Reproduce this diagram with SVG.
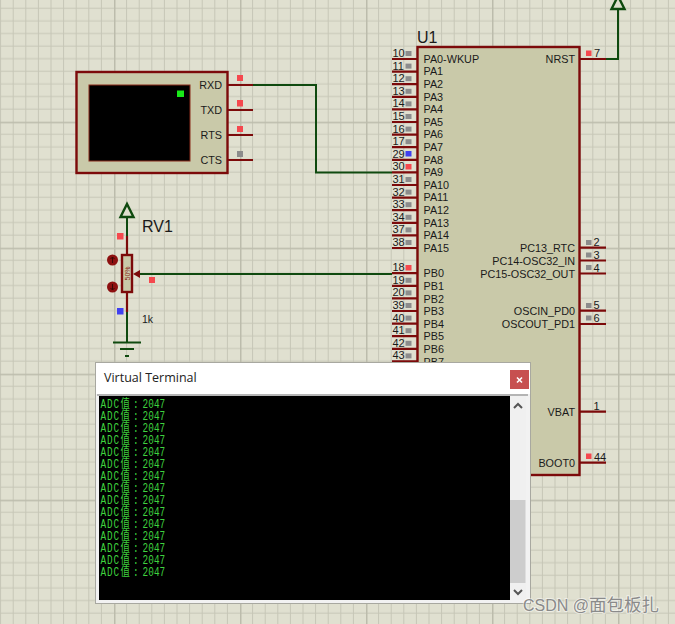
<svg xmlns="http://www.w3.org/2000/svg" width="675" height="624" viewBox="0 0 675 624">
<style>
text{font-family:"Liberation Sans",Arial,"Noto Sans CJK SC",sans-serif;fill:#1a1a1a}
.body{fill:#c9c9a9;stroke:#7c0a0a;stroke-width:2.4}
.pin{fill:none;stroke:#7c0a0a;stroke-width:2.2}
.wire{fill:none;stroke:#0f4a0f;stroke-width:2}
.lab{font-size:10.8px}
.end{text-anchor:end}
.num{font-size:11px}
.big{font-size:16px}
.r{fill:#f5484e}.g{fill:#8c8c8c}.b{fill:#4040f0}
.t text{font-family:"Liberation Mono","Noto Sans CJK SC",monospace;font-size:12px;fill:#3fd23f}
</style>
<defs>
<pattern id="grid" patternUnits="userSpaceOnUse" x="-12" y="-4.3" width="126" height="126">
<path d="M12.6 0V126M25.2 0V126M37.8 0V126M50.4 0V126M63 0V126M75.6 0V126M88.2 0V126M100.8 0V126M113.4 0V126M0 12.6H126M0 25.2H126M0 37.8H126M0 50.4H126M0 63H126M0 75.6H126M0 88.2H126M0 100.8H126M0 113.4H126" stroke="#c6c6b6" stroke-width="1" fill="none"/>
<path d="M0.5 0V126M0 0.5H126" stroke="#bcbcac" stroke-width="2" fill="none"/>
</pattern>
<path id="term" d="M-6.5 11H6.5L0 -2Z" fill="#dfdfce" stroke="#0f4a0f" stroke-width="2.4"/>
</defs>
<rect width="675" height="624" fill="#e0e0d0"/>
<rect width="675" height="624" fill="url(#grid)"/>

<g id="connectors">
<path class="wire" d="M253 85H316V172.5H392"/>
<path class="wire" d="M606 59H618V9"/>
<path class="wire" d="M127 216V236M127 312V342M392 274H140"/>
<path d="M140 270L133 274L140 278Z" fill="#7c0a0a"/>
</g>

<g id="compim">
<rect class="body" x="76.500" y="72" width="151" height="101"/>
<rect x="89" y="85" width="101" height="76" fill="#000" stroke="#8a2a1a" stroke-width="1"/>
<rect x="177" y="90.500" width="7" height="6.500" fill="#18e818"/>
<path class="pin" d="M228 85H253M228 110H253M228 135H253M228 160H253"/>
<text class="lab end" x="222" y="89">RXD</text>
<text class="lab end" x="222" y="114">TXD</text>
<text class="lab end" x="222" y="139">RTS</text>
<text class="lab end" x="222" y="164">CTS</text>
<rect class="r" x="237" y="75" width="6" height="6"/>
<rect class="r" x="237" y="100" width="6" height="6.500"/>
<rect class="r" x="237" y="126" width="6" height="6"/>
<rect class="g" x="237" y="151" width="6" height="6"/>
</g>

<g id="rv1">
<use href="#term" x="127" y="206"/>
<path class="pin" d="M127 236V255M127 292V312"/>
<rect class="body" x="122" y="255" width="10" height="37" stroke-width="2"/>
<text x="0" y="0" transform="translate(129.500 273.500) rotate(-90)" text-anchor="middle" style="font-size:7px;fill:#8a2a1a">50%</text>
<circle cx="112.500" cy="260" r="5.500" fill="#8c1010"/>
<circle cx="112.500" cy="287" r="5.500" fill="#8c1010"/>
<path d="M112.500 257V263M110.500 259L112.500 257L114.500 259M112.500 284V290M110.500 288L112.500 290L114.500 288" stroke="#3a0606" stroke-width="1" fill="none"/>
<path class="wire" d="M113 342.500H141M120 349H134" stroke-width="1.800"/>
<path class="wire" d="M125 356H129" stroke-width="1.500"/>
<rect class="r" x="117" y="233" width="6.500" height="6.500"/>
<rect class="b" x="117" y="308" width="6.500" height="6.500"/>
<rect class="r" x="149" y="277" width="6" height="6"/>
<text class="big" x="142" y="232">RV1</text>
<text x="142" y="323" style="font-size:10.500px">1k</text>
</g>

<g id="u1">
<text class="big" x="417" y="43">U1</text>
<rect class="body" x="417.500" y="47" width="162" height="428"/>
<path class="pin" d="M392 59H417M392 71.600H417M392 84.200H417M392 96.800H417M392 109.400H417M392 122H417M392 134.600H417M392 147.200H417M392 159.800H417M392 172.400H417M392 185H417M392 197.600H417M392 210.200H417M392 222.800H417M392 235.400H417M392 248H417M392 273.200H417M392 285.800H417M392 298.400H417M392 311H417M392 323.600H417M392 336.200H417M392 348.800H417M392 361.400H417"/>
<path class="pin" d="M580 59H606M580 247.700H606M580 260.500H606M580 273.500H606M580 310.700H606M580 324H606M580 411.700H606M580 462.700H606"/>
<g class="g">
<rect x="405.500" y="51" width="6" height="5"/><rect x="405.500" y="63.600" width="6" height="5"/><rect x="405.500" y="76.200" width="6" height="5"/><rect x="405.500" y="88.800" width="6" height="5"/><rect x="405.500" y="101.400" width="6" height="5"/><rect x="405.500" y="114" width="6" height="5"/><rect x="405.500" y="126.600" width="6" height="5"/><rect x="405.500" y="139.200" width="6" height="5"/>
<rect x="405.500" y="177" width="6" height="5"/><rect x="405.500" y="189.600" width="6" height="5"/><rect x="405.500" y="202.200" width="6" height="5"/><rect x="405.500" y="214.800" width="6" height="5"/><rect x="405.500" y="227.400" width="6" height="5"/><rect x="405.500" y="240" width="6" height="5"/>
<rect x="405.500" y="277.800" width="6" height="5"/><rect x="405.500" y="290.400" width="6" height="5"/><rect x="405.500" y="303" width="6" height="5"/><rect x="405.500" y="315.600" width="6" height="5"/><rect x="405.500" y="328.200" width="6" height="5"/><rect x="405.500" y="340.800" width="6" height="5"/><rect x="405.500" y="353.400" width="6" height="5"/>
<rect x="586" y="240" width="5.500" height="5"/><rect x="586" y="252.500" width="5.500" height="5"/><rect x="586" y="265" width="5.500" height="5"/><rect x="586" y="303" width="5.500" height="5"/><rect x="586" y="315.500" width="5.500" height="5"/>
</g>
<rect class="b" x="405.500" y="151" width="6" height="5.500"/>
<rect class="r" x="405.500" y="164" width="6" height="5.500"/>
<rect class="r" x="405.500" y="265" width="6" height="5.500"/>
<rect class="r" x="586" y="50.500" width="5.500" height="5.500"/>
<rect class="r" x="586" y="453.500" width="5.500" height="5.500"/>
<g class="num">
<text x="392.500" y="57">10</text><text x="392.500" y="69.600">11</text><text x="392.500" y="82.200">12</text><text x="392.500" y="94.800">13</text><text x="392.500" y="107.400">14</text><text x="392.500" y="120">15</text><text x="392.500" y="132.600">16</text><text x="392.500" y="145.200">17</text><text x="392.500" y="157.800">29</text><text x="392.500" y="170.400">30</text><text x="392.500" y="183">31</text><text x="392.500" y="195.600">32</text><text x="392.500" y="208.200">33</text><text x="392.500" y="220.800">34</text><text x="392.500" y="233.400">37</text><text x="392.500" y="246">38</text>
<text x="392.500" y="271.200">18</text><text x="392.500" y="283.800">19</text><text x="392.500" y="296.400">20</text><text x="392.500" y="309">39</text><text x="392.500" y="321.600">40</text><text x="392.500" y="334.200">41</text><text x="392.500" y="346.800">42</text><text x="392.500" y="359.400">43</text>
<text x="594" y="57">7</text><text x="593.500" y="246">2</text><text x="593.500" y="259">3</text><text x="593.500" y="272">4</text><text x="593.500" y="309">5</text><text x="593.500" y="322">6</text><text x="593.500" y="410">1</text><text x="594" y="461">44</text>
</g>
<g class="lab">
<text x="423.500" y="62.700">PA0-WKUP</text><text x="423.500" y="75.300">PA1</text><text x="423.500" y="87.900">PA2</text><text x="423.500" y="100.500">PA3</text><text x="423.500" y="113.100">PA4</text><text x="423.500" y="125.700">PA5</text><text x="423.500" y="138.300">PA6</text><text x="423.500" y="150.900">PA7</text><text x="423.500" y="163.500">PA8</text><text x="423.500" y="176.100">PA9</text><text x="423.500" y="188.700">PA10</text><text x="423.500" y="201.300">PA11</text><text x="423.500" y="213.900">PA12</text><text x="423.500" y="226.500">PA13</text><text x="423.500" y="239.100">PA14</text><text x="423.500" y="251.700">PA15</text>
<text x="423.500" y="277.300">PB0</text><text x="423.500" y="289.900">PB1</text><text x="423.500" y="302.500">PB2</text><text x="423.500" y="315.100">PB3</text><text x="423.500" y="327.700">PB4</text><text x="423.500" y="340.300">PB5</text><text x="423.500" y="352.900">PB6</text><text x="423.500" y="365.500">PB7</text>
</g>
<g class="lab end">
<text x="575" y="62.700">NRST</text><text x="575" y="251.500">PC13_RTC</text><text x="575" y="264.500">PC14-OSC32_IN</text><text x="575" y="277.500">PC15-OSC32_OUT</text><text x="575" y="314.500">OSCIN_PD0</text><text x="575" y="327.500">OSCOUT_PD1</text><text x="575" y="415.500">VBAT</text><text x="575" y="466.500">BOOT0</text>
</g>
</g>

<g id="reset-terminal">
<use href="#term" x="618" y="-2"/>
</g>

<g id="virtual-terminal">
<rect x="95" y="362" width="436" height="242" fill="#a8a8a0"/>
<rect x="96" y="363" width="434" height="240" fill="#f2f2f2"/>
<rect x="96" y="363" width="434" height="31" fill="#fff"/>
<rect x="97" y="394" width="431" height="2" fill="#b4b4b4"/>
<rect x="510" y="370" width="19" height="19" fill="#c75050"/>
<path d="M517 377.500L522 382.500M522 377.500L517 382.500" stroke="#fff" stroke-width="1.600"/>
<text x="104" y="382" style="font-size:12.500px;font-family:'Open Sans','Liberation Sans',sans-serif;fill:#222">Virtual Terminal</text>
<rect x="99" y="396" width="411" height="204" fill="#000"/>
<rect x="510" y="396" width="16" height="204" fill="#f0f0f0"/>
<rect x="510" y="500" width="15.500" height="83" fill="#cdcdcd"/>
<path d="M514 408L518 404L522 408M514 590L518 594L522 590" fill="none" stroke="#555" stroke-width="2"/>
<g class="t" transform="scale(.78 1)">
<text x="128.800 137.200 145.500 154.500 170.500 174.400 182.700 190 197.300 204.600" y="408">ADC值: 2047</text>
<text x="128.800 137.200 145.500 154.500 170.500 174.400 182.700 190 197.300 204.600" y="420">ADC值: 2047</text>
<text x="128.800 137.200 145.500 154.500 170.500 174.400 182.700 190 197.300 204.600" y="432">ADC值: 2047</text>
<text x="128.800 137.200 145.500 154.500 170.500 174.400 182.700 190 197.300 204.600" y="444">ADC值: 2047</text>
<text x="128.800 137.200 145.500 154.500 170.500 174.400 182.700 190 197.300 204.600" y="456">ADC值: 2047</text>
<text x="128.800 137.200 145.500 154.500 170.500 174.400 182.700 190 197.300 204.600" y="468">ADC值: 2047</text>
<text x="128.800 137.200 145.500 154.500 170.500 174.400 182.700 190 197.300 204.600" y="480">ADC值: 2047</text>
<text x="128.800 137.200 145.500 154.500 170.500 174.400 182.700 190 197.300 204.600" y="492">ADC值: 2047</text>
<text x="128.800 137.200 145.500 154.500 170.500 174.400 182.700 190 197.300 204.600" y="504">ADC值: 2047</text>
<text x="128.800 137.200 145.500 154.500 170.500 174.400 182.700 190 197.300 204.600" y="516">ADC值: 2047</text>
<text x="128.800 137.200 145.500 154.500 170.500 174.400 182.700 190 197.300 204.600" y="528">ADC值: 2047</text>
<text x="128.800 137.200 145.500 154.500 170.500 174.400 182.700 190 197.300 204.600" y="540">ADC值: 2047</text>
<text x="128.800 137.200 145.500 154.500 170.500 174.400 182.700 190 197.300 204.600" y="552">ADC值: 2047</text>
<text x="128.800 137.200 145.500 154.500 170.500 174.400 182.700 190 197.300 204.600" y="564">ADC值: 2047</text>
<text x="128.800 137.200 145.500 154.500 170.500 174.400 182.700 190 197.300 204.600" y="576">ADC值: 2047</text>
</g>
</g>

<text x="523" y="611" style="font-size:16px;font-family:'Liberation Sans','Noto Sans CJK SC',sans-serif;fill:#8a8a8a;stroke:#fff;stroke-width:2;paint-order:stroke;stroke-opacity:.5">CSDN @<tspan style="font-size:17.500px">面包板扎</tspan></text>
</svg>
